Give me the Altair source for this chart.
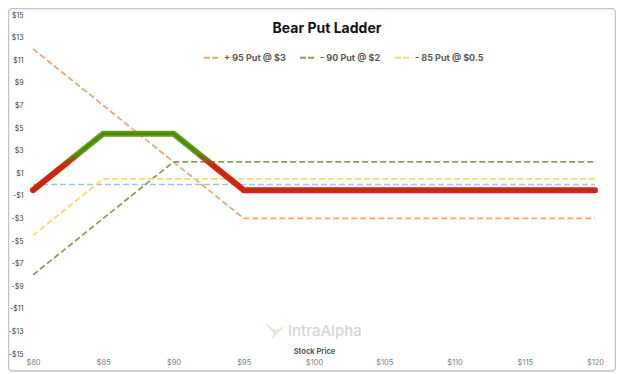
import altair as alt
import pandas as pd

# ---- data ----
prices = [80, 85, 90, 95, 100, 105, 110, 115, 120]
long_95_put = [12, 7, 2, -3, -3, -3, -3, -3, -3]
short_90_put = [-8, -3, 2, 2, 2, 2, 2, 2, 2]
short_85_put = [-4.5, 0.5, 0.5, 0.5, 0.5, 0.5, 0.5, 0.5, 0.5]
net_payoff = [-0.5, 4.5, 4.5, -0.5, -0.5, -0.5, -0.5, -0.5, -0.5]
zero_line = [0, 0, 0, 0, 0, 0, 0, 0, 0]

leg_names = ["+ 95 Put @ $3", "- 90 Put @ $2", "- 85 Put @ $0.5"]
leg_colors = ["#f4a470", "#7fa35c", "#ffd966"]
x_ticks = [80, 85, 90, 95, 100, 105, 110, 115, 120]
y_ticks = [-15, -13, -11, -9, -7, -5, -3, -1, 1, 3, 5, 7, 9, 11, 13, 15]

# ---- tables ----
legs = pd.DataFrame({
    "price": prices * 3,
    "value": long_95_put + short_90_put + short_85_put,
    "leg": [leg_names[0]] * len(prices) + [leg_names[1]] * len(prices) + [leg_names[2]] * len(prices),
})
net = pd.DataFrame({"price": prices, "value": net_payoff})
zero = pd.DataFrame({"price": prices, "value": zero_line})
one = pd.DataFrame({"a": [0]})

W, H = 562, 339

xscale = alt.Scale(domain=[80, 120], nice=False, zero=False)
yscale = alt.Scale(domain=[-15, 15], nice=False, zero=False)

x_axis = alt.Axis(
    values=x_ticks, labelExpr="'$' + datum.value", labelFontSize=7.5,
    labelColor="#7f7f7f", labelPadding=4, labelFlush=False, labelOverlap=False,
    title="Stock Price", titleY=-3, titleBaseline="middle", titleFontSize=7.5,
    titleFontWeight="bold", titleColor="#595959",
)
y_axis = alt.Axis(
    values=y_ticks, labelExpr="(datum.value < 0 ? '-' : '') + '$' + abs(datum.value)",
    labelFontSize=7, labelColor="#404040", labelPadding=10, title=None,
    labelOverlap=False, labelFlush=False,
)

X = alt.X("price:Q", scale=xscale, axis=x_axis)
Y = alt.Y("value:Q", scale=yscale, axis=y_axis)

border = alt.Chart(one).mark_rect(
    filled=False, stroke="#c4c4c4", strokeWidth=1.5, cornerRadius=4
).encode(x=alt.value(-24.5), x2=alt.value(W + 20.5), y=alt.value(-6.5), y2=alt.value(356))

watermark = alt.Chart(one).mark_text(
    text="IntraAlpha", fontSize=15, fontWeight=500, color="#d6d6d6", align="left", baseline="middle"
).encode(x=alt.value(255), y=alt.value(316))

bird = alt.Chart(one).mark_point(
    shape="M -1 -0.7 L 0.05 0.05 L 0.95 -0.4 L 0.35 0.2 L -0.25 0.85 L -0.15 0.25 Z",
    filled=True, color="#d3ead2", opacity=1, size=450,
).encode(x=alt.value(242), y=alt.value(315))

zero_layer = alt.Chart(zero).mark_line(
    color="#9dc3e6", strokeWidth=1.6, strokeDash=[6, 3]
).encode(x=X, y=Y)

legs_layer = alt.Chart(legs).mark_line(strokeWidth=1.8, strokeDash=[6, 3]).encode(
    x=X, y=Y,
    color=alt.Color(
        "leg:N",
        scale=alt.Scale(domain=leg_names, range=leg_colors),
        sort=leg_names,
        legend=alt.Legend(
            orient="none", legendX=170, legendY=34, direction="horizontal", title=None,
            symbolType="stroke", symbolDash=[6, 2], symbolStrokeWidth=2, symbolSize=225,
            labelFontSize=9, labelFontWeight="bold", labelColor="#595959",
            labelOffset=4, columnPadding=10,
        ),
    ),
    detail="leg:N",
)

grad = alt.Gradient(
    gradient="linear",
    stops=[
        alt.GradientStop(color="#5e9f14", offset=0),
        alt.GradientStop(color="#5e9f14", offset=0.33),
        alt.GradientStop(color="#f41414", offset=0.58),
        alt.GradientStop(color="#f41414", offset=1),
    ],
    x1=0, x2=0, y1=0, y2=1,
)

net_outer = alt.Chart(net).mark_line(
    color=grad, strokeWidth=6, strokeCap="round", strokeJoin="round"
).encode(x=X, y=Y)

net_inner = alt.Chart(net).mark_line(
    color="#3d6b00", strokeWidth=2.5, opacity=0.45, strokeCap="round", strokeJoin="round"
).encode(x=X, y=Y)

chart = alt.layer(
    border, watermark, bird, zero_layer, legs_layer, net_outer, net_inner
).properties(
    width=W, height=H,
    title=alt.TitleParams(
        "Bear Put Ladder", fontSize=14, fontWeight="bold", color="#111111",
        anchor="middle", dx=13, offset=-28,
    ),
    autosize=alt.AutoSizeParams(type="none"),
    padding={"left": 25, "top": 7, "right": 21, "bottom": 20},
).configure(
    font="Inter",
).configure_view(
    stroke=None,
).configure_axis(
    grid=False, domain=False, ticks=False, labelFont="Inter", titleFont="Inter",
).configure_legend(
    labelFont="Inter",
).configure_title(
    font="Inter",
)

chart.save("out.html", embed_options={"renderer": "svg", "actions": False})
